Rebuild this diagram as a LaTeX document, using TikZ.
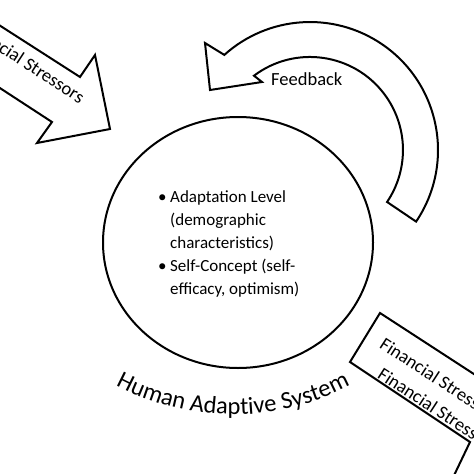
\documentclass[tikz,border=0pt]{standalone}
\usepackage{fontspec}
\setmainfont{Carlito}
\usetikzlibrary{shapes.geometric,decorations.text}

\newcommand{\itembul}{\makebox[12pt][l]{\textbullet}}
\newcommand{\itemind}{\hspace*{12pt}}

\begin{document}
\begin{tikzpicture}[x=1pt,y=1pt]

\tikzset{blockarrow/.style = {draw, line width=2pt, fill=white, line join=miter},
  arrowtext/.style = {font=\fontsize{18.5}{20}\selectfont, inner sep=0pt}}

\useasboundingbox (0,0) rectangle (474,-474);
\clip (0,0) rectangle (474,-474);

\draw[blockarrow] (-40,0) -- (80,-77) -- (95,-55) -- (110,-129) -- (37,-143) -- (52,-122) -- (-40,-62) -- cycle;
\node[arrowtext, rotate=-33, anchor=east] (instress) at (83,-99) {Financial Stressors};

\draw[blockarrow] (416.1,-221.6) arc[start angle=-34, end angle=132, radius=128] -- (205,-43) -- (210,-90) -- (262,-82) -- (254,-75.7) arc[start angle=127, end angle=-34, radius=93] -- cycle;
\node[arrowtext, anchor=base west] (feedback) at (271,-85) {Feedback};

\node[ellipse, draw, line width=2pt, minimum width=270pt, minimum height=251pt, inner sep=0pt] (system) at (238,-242.5) {};
\node[anchor=west, align=left, inner sep=0pt, font=\fontsize{17}{23}\selectfont] (levels) at (158,-243.5)
  {\itembul Adaptation Level\\ \itemind(demographic\\ \itemind characteristics)\\ \itembul Self-Concept (self-\\ \itemind efficacy, optimism)};

\path[decorate, decoration={text along path, text align=center, text={|\fontsize{24.5}{24.5}\selectfont|Human Adaptive System}}]
  (108,-381) arc[start angle=240, end angle=300, radius=250];

\draw[blockarrow] (380,-313) -- (560,-430) -- (600,-520) -- (448,-488) -- (470,-442) -- (350,-362) -- cycle;
\node[arrowtext, rotate=-33, anchor=west] (outstressa) at (382,-342) {Financial Stressors};
\node[arrowtext, rotate=-33, anchor=west] (outstressb) at (380,-372) {Financial Stressors};

\end{tikzpicture}
\end{document}
